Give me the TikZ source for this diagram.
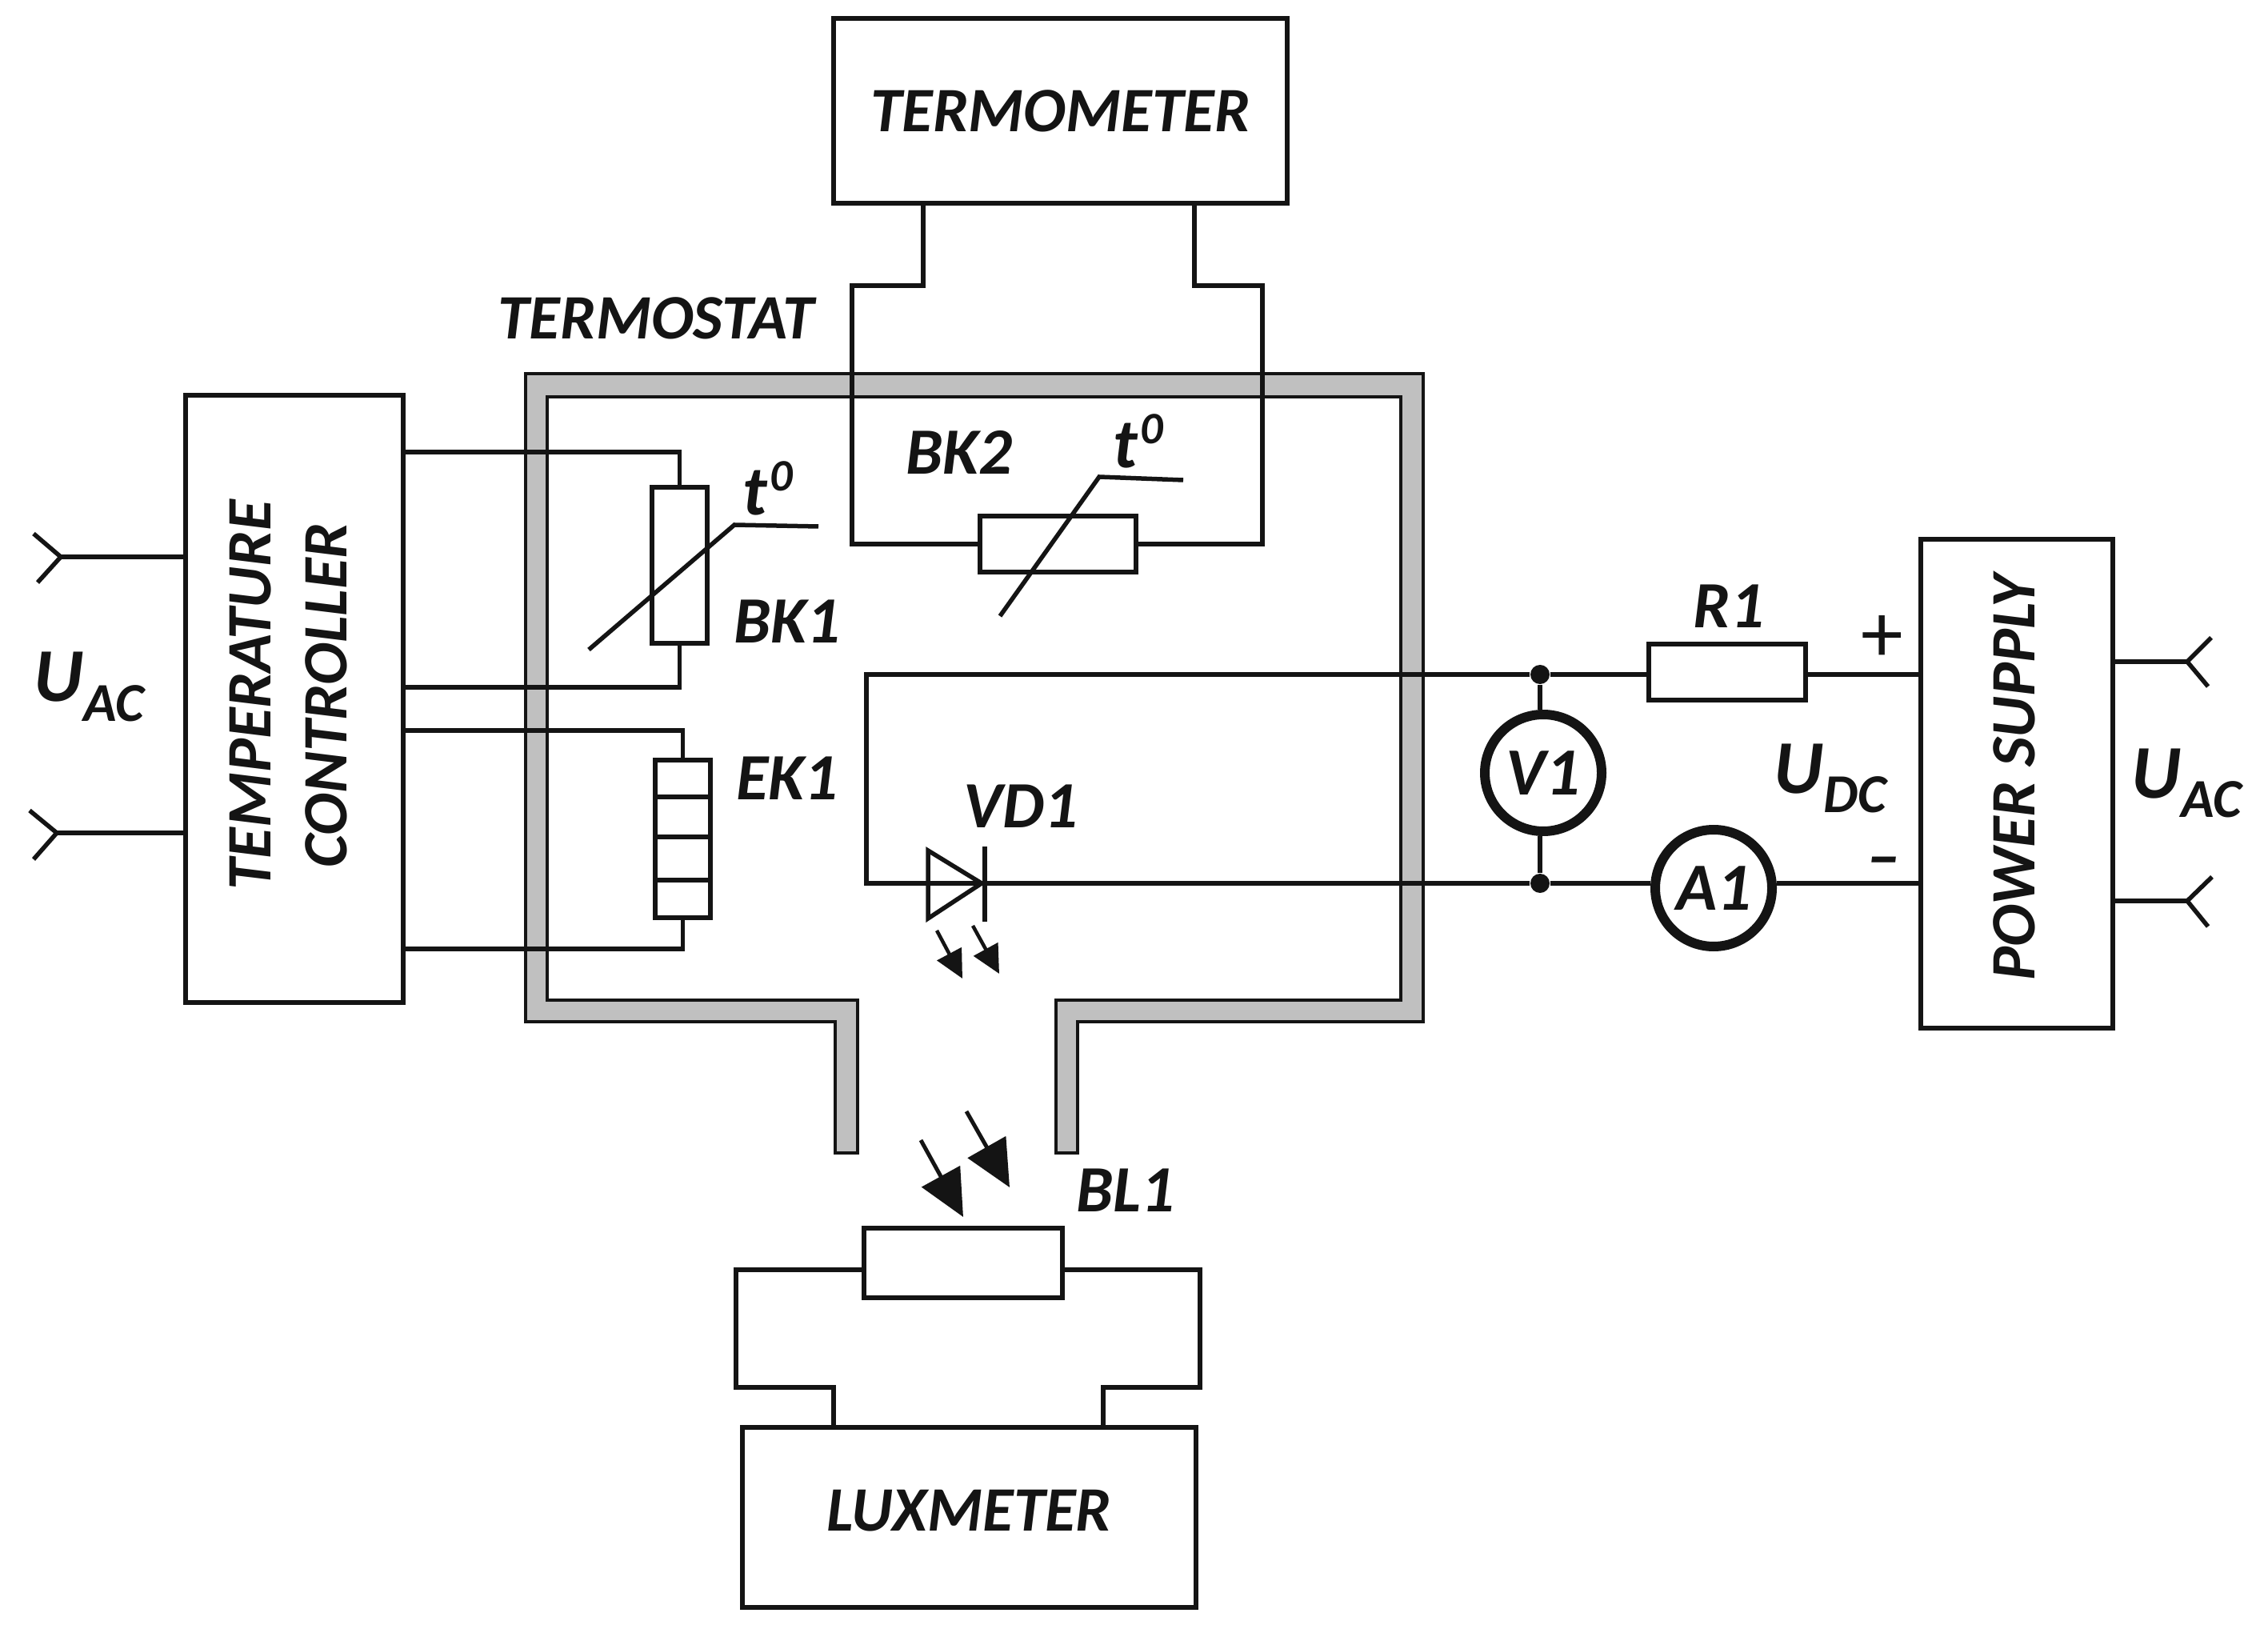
\documentclass[tikz,border=0pt]{standalone}
\usepackage{fontspec}
\setmainfont{Carlito}
\usetikzlibrary{arrows.meta}
\definecolor{ink}{HTML}{141414}
\definecolor{wallgray}{HTML}{C0C0C0}
\tikzstyle{block} = [rectangle, line width=0.065cm, draw=ink, inner sep=0pt]
\tikzstyle{part} = [rectangle, line width=0.055cm, draw=ink, inner sep=0pt]
\tikzstyle{meter} = [circle, line width=0.12cm, draw=ink, inner sep=0pt, minimum size=1.46cm, font=\fontsize{24}{28}\selectfont\bfseries\itshape]
\tikzstyle{dot} = [circle, fill=ink, inner sep=0pt, minimum size=0.24cm]
\tikzstyle{lbl} = [inner sep=0pt, font=\fontsize{23.5}{27}\selectfont\bfseries\itshape]
\tikzstyle{word} = [inner sep=0pt, font=\fontsize{22.5}{27}\selectfont\bfseries\itshape]
\tikzstyle{vlbl} = [word, rotate=90, align=center]
\tikzstyle{wire} = [line width=0.055cm, draw=ink]
\tikzstyle{wall} = [line width=0.04cm, draw=ink, fill=wallgray]
\tikzstyle{ray} = [line width=0.045cm, draw=ink, -{Triangle[length=0.35cm,width=0.34cm]}]
\tikzstyle{bigray} = [line width=0.05cm, draw=ink, -{Triangle[length=0.58cm,width=0.54cm]}]
\newcommand{\vsub}[2]{\fontsize{27}{30}\selectfont #1\raisebox{-7pt}{\fontsize{19.5}{24}\selectfont #2}}
\newcommand{\tzero}{\fontsize{25}{30}\selectfont t\kern1pt\raisebox{8.5pt}{\fontsize{16}{18}\selectfont 0}}
\begin{document}
\begin{tikzpicture}[node distance=2cm, color=ink]
\path [use as bounding box, fill=white] (0,0) rectangle (28.35,-20.36);
\draw [wall] (6.57,-4.67) -- (17.79,-4.67) -- (17.79,-12.77) -- (13.47,-12.77) -- (13.47,-14.41) -- (13.20,-14.41) -- (13.20,-12.50) -- (17.51,-12.50) -- (17.51,-4.96) -- (6.84,-4.96) -- (6.84,-12.50) -- (10.72,-12.50) -- (10.72,-14.41) -- (10.44,-14.41) -- (10.44,-12.77) -- (6.57,-12.77) -- cycle;
\node (termo) [block, minimum width=5.67cm, minimum height=2.31cm, word] at (13.255,-1.385) {TERMOMETER};
\node (bk2) [part, below of=termo, xshift=-0.03cm, yshift=-3.415cm, minimum width=1.95cm, minimum height=0.70cm] {};
\node (lux) [block, below of=termo, xshift=-1.14cm, yshift=-15.58cm, minimum width=5.67cm, minimum height=2.25cm, word, text depth=0.17cm] {LUXMETER};
\node (bl1) [block, above of=lux, xshift=-0.075cm, yshift=1.18cm, minimum width=2.48cm, minimum height=0.87cm] {};
\node (tc) [block, left of=bk2, xshift=-7.545cm, yshift=-1.935cm, minimum width=2.72cm, minimum height=7.59cm] {};
\node (tctxt) [vlbl] at (3.61,-8.69) {TEMPERATURE\\CONTROLLER};
\node (bk1) [part, right of=tc, xshift=2.815cm, yshift=1.67cm, minimum width=0.69cm, minimum height=1.95cm] {};
\node (ek1) [part, below of=bk1, xshift=0.04cm, yshift=-1.42cm, minimum width=0.69cm, minimum height=1.97cm] {};
\node (r1) [part, right of=bk2, xshift=6.365cm, yshift=-1.6cm, minimum width=1.96cm, minimum height=0.70cm] {};
\node (ps) [block, right of=r1, xshift=1.62cm, yshift=-1.395cm, minimum width=2.40cm, minimum height=6.11cm] {};
\node (pstxt) [vlbl] at (25.18,-9.72) {POWER SUPPLY};
\node (v1) [meter, left of=r1, xshift=-0.30cm, yshift=-1.26cm] {V1};
\node (a1) [meter, below of=r1, xshift=-0.17cm, yshift=-0.70cm] {A1};
\node (j1) [dot] at (19.25,-8.43) {};
\node (j2) [dot] at (19.25,-11.04) {};
% labels
\node (wtxt) [word] at (8.20,-3.98) {TERMOSTAT};
\node (bk1txt) [lbl] at (9.84,-7.77) {BK1};
\node (bk2txt) [lbl] at (11.99,-5.65) {BK2};
\node (ek1txt) [lbl] at (9.84,-9.73) {EK1};
\node (vd1txt) [lbl] at (12.76,-10.08) {VD1};
\node (bl1txt) [lbl] at (14.07,-14.88) {BL1};
\node (r1txt) [lbl] at (21.61,-7.58) {R1};
\node (t1) [lbl] at (9.60,-6.10) {\tzero};
\node (t2) [lbl] at (14.23,-5.51) {\tzero};
\node (uac1) [lbl] at (1.115,-8.585) {\vsub{U}{AC}};
\node (uac2) [lbl] at (27.33,-9.79) {\vsub{U}{AC}};
\node (udc) [lbl] at (22.88,-9.73) {\vsub{U}{DC}};
\node (plus) [inner sep=0pt, font=\fontsize{30}{34}\selectfont] at (23.53,-7.99) {+};
\node (minus) [inner sep=0pt, font=\fontsize{24}{26}\selectfont\bfseries\itshape] at (23.54,-10.85) {--};
% temperature controller wires
\draw [wire] (tc.east |- 0,-5.65) -| (bk1);
\draw [wire] (tc.east |- 0,-8.59) -| (bk1);
\draw [wire] (tc.east |- 0,-9.13) -| (ek1);
\draw [wire] (tc.east |- 0,-11.86) -| (ek1);
\draw [part] (ek1.west |- 0,-9.96) -- (ek1.east |- 0,-9.96);
\draw [part] (ek1.west |- 0,-10.46) -- (ek1.east |- 0,-10.46);
\draw [part] (ek1.west |- 0,-11.00) -- (ek1.east |- 0,-11.00);
% plugs
\coordinate (pa) at (0.76,-6.96);
\coordinate (pb) at (0.71,-10.41);
\coordinate (pc) at (27.34,-8.27);
\coordinate (pd) at (27.34,-11.26);
\draw [wire] (tc.west |- pa) -- (pa);
\draw [wire] (tc.west |- pb) -- (pb);
\draw [wire] (ps.east |- pc) -- (pc);
\draw [wire] (ps.east |- pd) -- (pd);
\draw [wire] (0.42,-6.67) -- (pa) -- (0.47,-7.28);
\draw [wire] (0.37,-10.13) -- (pb) -- (0.42,-10.74);
\draw [wire] (27.64,-7.97) -- (pc) -- (27.60,-8.58);
\draw [wire] (27.65,-10.96) -- (pd) -- (27.60,-11.58);
% termometer and luxmeter wires
\draw [wire] (11.54,0 |- termo.south) -- (11.54,-3.57) -- (10.65,-3.57) |- (bk2);
\draw [wire] (14.93,0 |- termo.south) -- (14.93,-3.57) -- (15.78,-3.57) |- (bk2);
\draw [wire] (10.42,0 |- lux.north) -- (10.42,-17.34) -- (9.20,-17.34) |- (bl1.west |- 0,-15.87);
\draw [wire] (13.79,0 |- lux.north) -- (13.79,-17.34) -- (15.00,-17.34) |- (bl1.east |- 0,-15.87);
% thermal slashes
\coordinate (sa) at (7.36,-8.12);
\coordinate (sb) at (9.18,-6.56);
\coordinate (sc) at (10.23,-6.58);
\coordinate (sd) at (12.50,-7.70);
\coordinate (se) at (13.74,-5.96);
\coordinate (sf) at (14.79,-6.00);
\draw [wire] (sa) -- (sb) -- (sc);
\draw [wire] (sd) -- (se) -- (sf);
% led circuit
\coordinate (lpa) at (10.83,-8.43);
\coordinate (lpb) at (10.83,-11.04);
\coordinate (vda) at (11.60,-10.63);
\coordinate (vdb) at (11.60,-11.48);
\coordinate (vdc) at (12.27,-11.04);
\coordinate (vdd) at (12.31,-10.58);
\coordinate (vde) at (12.31,-11.52);
\draw [wire] (j1) -- (lpa) -- (lpb) -- (j2);
\draw [wire] (j1) -- (r1.west |- j1);
\draw [wire] (r1.east |- j1) -- (ps.west |- j1);
\draw [wire] (j2) -- (a1.west |- j2);
\draw [wire] (a1.east |- j2) -- (ps.west |- j2);
\draw [wire] (j1) -- (j1 |- v1.north);
\draw [wire] (j2) -- (j2 |- v1.south);
\draw [wire] (vda) -- (vdb) -- (vdc) -- cycle;
\draw [wire] (vdd) -- (vde);
% light rays
\coordinate (ra) at (11.71,-11.63);
\coordinate (rb) at (12.03,-12.23);
\coordinate (rc) at (12.16,-11.57);
\coordinate (rd) at (12.49,-12.17);
\coordinate (re) at (11.51,-14.25);
\coordinate (rf) at (12.04,-15.21);
\coordinate (rg) at (12.08,-13.89);
\coordinate (rh) at (12.62,-14.84);
\draw [ray] (ra) -- (rb);
\draw [ray] (rc) -- (rd);
\draw [bigray] (re) -- (rf);
\draw [bigray] (rg) -- (rh);
\end{tikzpicture}
\end{document}
